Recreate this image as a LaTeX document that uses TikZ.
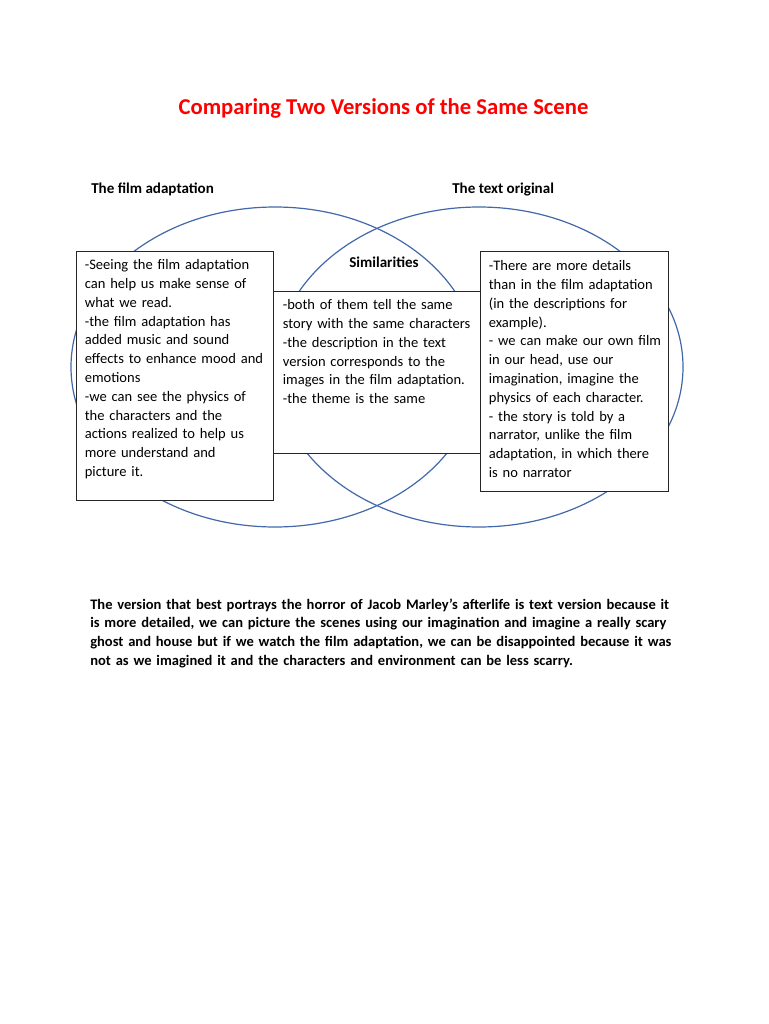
\documentclass[tikz,border=0pt]{standalone}
\usepackage{fontspec}
\setmainfont{Carlito}
\usetikzlibrary{fit}
\definecolor{vennblue}{RGB}{66,104,170}
\definecolor{titlered}{RGB}{255,0,0}

\tikzset{
  panel/.style={draw=black!85, line width=0.6pt, fill=white, inner sep=0pt},
  boxtext/.style={anchor=base west, inner sep=0pt, text width=170pt, align=left,
    font=\fontsize{10.9}{14.1}\selectfont},
  heading/.style={anchor=base west, inner sep=0pt, font=\fontsize{11.3}{14}\selectfont\bfseries},
}

\begin{document}
\begin{tikzpicture}[x=0.75pt, y=-0.75pt]
        \useasboundingbox (0,0) rectangle (768,1024);

        % Tytul
        \node[anchor=base, inner sep=0pt, text=titlered, font=\fontsize{17}{20}\selectfont\bfseries]
            (title) at (383.5,114) {Comparing Two Versions of the Same Scene};

        % Naglowki
        \node[heading] (filmhead) at (91,193) {The film adaptation};
        \node[heading] (texthead) at (452,193) {The text original};

        % Elipsy (Venn)
        \draw[vennblue, line width=0.9pt] (275,367) ellipse [x radius=204, y radius=160];
        \draw[vennblue, line width=0.9pt] (479,367) ellipse [x radius=204, y radius=160];

        \node[heading] (simhead) at (349,267) {Similarities};

        % Ramki
        \node[panel, fit={(76,251) (273,500)}] (filmbox) {};
        \node[panel, fit={(480,251) (668,491)}] (textbox) {};
        \node[panel, fit={(273,291) (480,453)}] (simbox) {};

        % Teksty w ramkach
        \node[boxtext] (filmtxt) at ([shift={(9,19)}]filmbox.north west) {%
            -Seeing the film adaptation\\
            can help us make sense of\\
            what we read.\\
            -the film adaptation has\\
            added music and sound\\
            effects to enhance mood and\\
            emotions\\
            -we can see the physics of\\
            the characters and the\\
            actions realized to help us\\
            more understand and\\
            picture it.};
        \node[boxtext] (simtxt) at ([shift={(10,19)}]simbox.north west) {%
            -both of them tell the same\\
            story with the same characters\\
            -the description in the text\\
            version corresponds to the\\
            images in the film adaptation.\\
            -the theme is the same};
        \node[boxtext] (texttxt) at ([shift={(9,20)}]textbox.north west) {%
            -There are more details\\
            than in the film adaptation\\
            (in the descriptions for\\
            example).\\
            - we can make our own film\\
            in our head, use our\\
            imagination, imagine the\\
            physics of each character.\\
            - the story is told by a\\
            narrator, unlike the film\\
            adaptation, in which there\\
            is no narrator};

        % Wniosek
        \node[anchor=base west, inner sep=0pt, text width=460pt, align=left,
            font=\fontsize{10.9}{14}\selectfont\bfseries] (verdict) at (90,609) {%
            The version that best portrays the horror of Jacob Marley’s afterlife is text version because it\\
            is more detailed, we can picture the scenes using our imagination and imagine a really scary\\
            ghost and house but if we watch the film adaptation, we can be disappointed because it was\\
            not as we imagined it and the characters and environment can be less scarry.};
    \end{tikzpicture}
\end{document}
